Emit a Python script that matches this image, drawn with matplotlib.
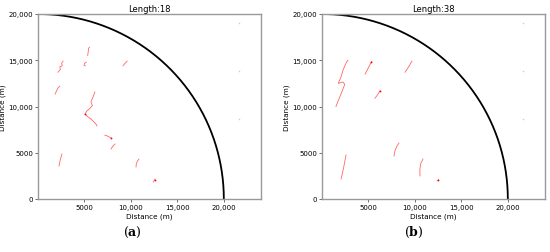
import numpy as np
import matplotlib.pyplot as plt

plt.rcParams['mathtext.fontset'] = 'dejavuserif'

# panel titles and captions
titles = ['Length:18', 'Length:38']
captions = ['a', 'b']

# red trajectories, (x list, y list) in metres, panel (a)
tracks_a = [
    ([5550, 5450, 5400, 5350], [16400, 16300, 15900, 15500]),
    ([2700, 2550, 2600, 2350, 2400, 2150], [14900, 14700, 14400, 14300, 14000, 13700]),
    ([5200, 5000, 4950, 5100], [14800, 14650, 14450, 14400]),
    ([9150, 9350, 9600], [14400, 14650, 14900]),
    ([1850, 2000, 2150, 2350], [11350, 11700, 12000, 12200]),
    ([6130, 5950, 5700, 5850, 5600, 5250, 5060, 5350, 5700, 6240, 6350],
     [11570, 11100, 10490, 10100, 9800, 9500, 9190, 8900, 8650, 8100, 7900]),
    ([7200, 7500, 7850], [6900, 6800, 6600]),
    ([7850, 8050, 8290], [5400, 5700, 5950]),
    ([2260, 2350, 2450, 2580], [3570, 4000, 4450, 4860]),
    ([10550, 10580, 10700, 10870], [3460, 3800, 4100, 4320]),
    ([12400, 12600], [1840, 2160]),
]

# red trajectories, panel (b)
tracks_b = [
    ([1500, 1900, 2300, 2450, 2250, 1750, 2050, 2250, 2500, 2650, 2800],
     [10000, 11000, 12000, 12400, 12650, 12500, 13200, 13900, 14500, 14800, 15000]),
    ([4630, 4850, 5050, 5250, 5380], [13500, 13900, 14300, 14700, 14900]),
    ([8930, 9200, 9450, 9680], [13700, 14100, 14500, 14900]),
    ([5700, 5900, 6100, 6240], [10900, 11150, 11450, 11700]),
    ([2050, 2200, 2350, 2480, 2580], [2160, 2800, 3500, 4200, 4760]),
    ([7750, 7850, 8050, 8290], [4650, 5200, 5700, 6050]),
    ([10550, 10530, 10650, 10870], [2490, 3200, 3900, 4320]),
    ([12400, 12550], [1980, 2100]),
]

# heavier spots on the tracks
spots_a = ([5060, 7850, 12550], [9190, 6600, 2100])
spots_b = ([5300, 6200, 12480], [14850, 11650, 2050])

# faint grey markers at the right edge
grey_x = [21650, 21650, 21650]
grey_y = [19000, 13800, 8600]

radius = 20000
xticks = [5000, 10000, 15000, 20000]
xlabels = ['5000', '10,000', '15,000', '20,000']
yticks = [0, 5000, 10000, 15000, 20000]
ylabels = ['0', '5000', '10,000', '15,000', '20,000']

fig = plt.figure(figsize=(5.5, 2.53), dpi=100)
lefts = [38 / 550, 322 / 550]
cap_x = [0.24, 0.753]
theta = np.linspace(0, np.pi / 2, 300)

for i, (tracks, spots) in enumerate([(tracks_a, spots_a), (tracks_b, spots_b)]):
    ax = fig.add_axes([lefts[i], 53 / 253, 223 / 550, 185 / 253])
    ax.plot(radius * np.cos(theta), radius * np.sin(theta), color='black', lw=1.3)
    for tx, ty in tracks:
        ax.plot(tx, ty, color='#ff4040', lw=0.6, alpha=0.8)
    ax.plot(spots[0], spots[1], 'o', color='red', ms=1.3, mec='none')
    ax.plot(grey_x, grey_y, 's', color='#cccccc', ms=1, mec='none')
    ax.set_xlim(0, 24000)
    ax.set_ylim(0, 20000)
    ax.set_xticks(xticks)
    ax.set_xticklabels(xlabels)
    ax.set_yticks(yticks)
    ax.set_yticklabels(ylabels)
    ax.tick_params(labelsize=5, length=2, width=0.6, pad=1.5, color='#555555')
    for s in ax.spines.values():
        s.set_color('#999999')
        s.set_linewidth(1.0)
    ax.set_xlabel('Distance (m)', fontsize=5.2, labelpad=2)
    ax.set_ylabel('Distance (m)', fontsize=5.2, labelpad=2)
    ax.set_title(titles[i], fontsize=6, pad=2)
    fig.text(cap_x[i], 0.08, '(' + r'$\mathbf{' + captions[i] + '}$' + ')',
             fontsize=9, family='DejaVu Serif', ha='center', va='center')

plt.savefig('out.png', dpi=100)
